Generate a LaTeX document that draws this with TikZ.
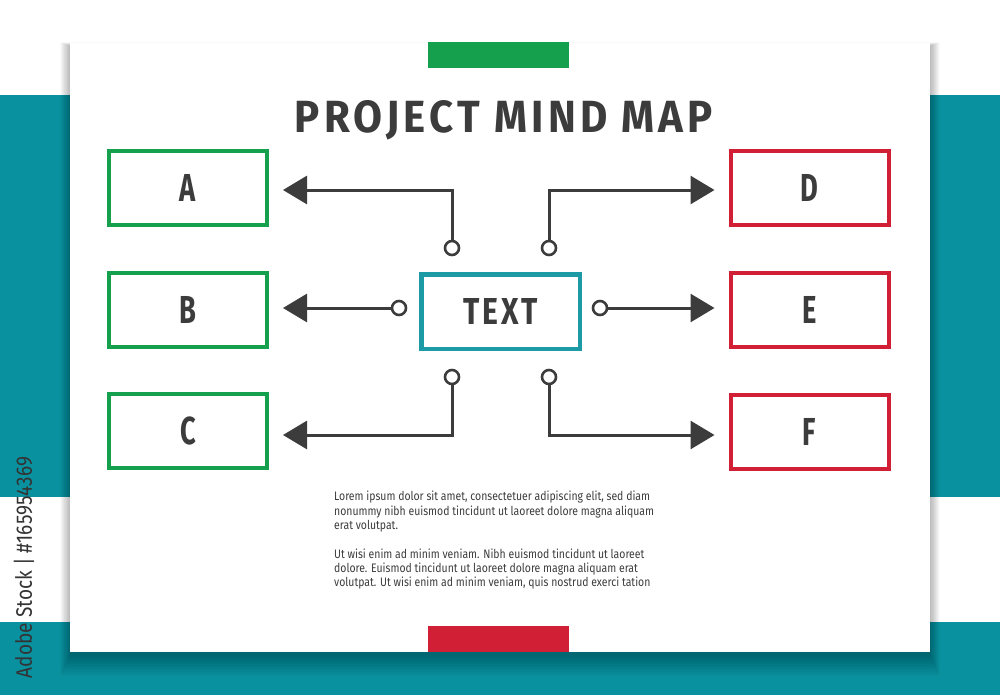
\documentclass[tikz,border=0pt]{standalone}
\usepackage{fontspec}
\usepackage{graphicx}
\setmainfont{Fira Sans}
\newfontfamily\disp[FakeStretch=0.7,LetterSpace=7]{Fira Sans}
\newfontfamily\bodyf[FakeStretch=0.85]{Fira Sans}
\usetikzlibrary{arrows.meta}
\definecolor{bandteal}{HTML}{0A919F}
\definecolor{boxteal}{HTML}{1C9AA6}
\definecolor{mmgreen}{HTML}{14A04C}
\definecolor{mmred}{HTML}{D11F35}
\definecolor{ink}{HTML}{3C3C3C}
\begin{document}
\begin{tikzpicture}[x=1pt,y=-1pt,
  leaf/.style={draw, line width=4pt, minimum width=158pt, minimum height=74pt,
    inner sep=0pt, text=ink, font=\disp\bfseries\fontsize{39}{39}\selectfont},
  greenbox/.style={leaf, draw=mmgreen},
  redbox/.style={leaf, draw=mmred},
  hub/.style={draw=boxteal, line width=4.5pt, minimum width=158.5pt, minimum height=74.5pt,
    inner sep=0pt, text=ink},
  port/.style={circle, draw=ink, line width=2.6pt, fill=white, minimum size=14pt, inner sep=0pt},
  conn/.style={draw=ink, line width=3pt, -{Triangle[length=24pt,width=28pt]}, shorten >=14pt},
  bar/.style={inner sep=0pt, minimum width=141pt, minimum height=26pt}
]
\useasboundingbox (0,0) rectangle (1000,695);
% background
\fill[white] (0,0) rectangle (1000,695);
\fill[bandteal] (0,95) rectangle (1000,497);
\fill[bandteal] (0,622) rectangle (1000,695);
% watermark label
\node[rotate=90, text=ink!85!black, inner sep=0pt] (wm) at (24,567.5)
  {\resizebox{221pt}{!}{\bodyf\fontsize{16}{16}\selectfont Adobe Stock | \#165954369}};
% card shadow
\foreach \i in {1,...,14}{
  \fill[black, opacity=0.018] (70-\i*0.7, 43-\i*0.25+3) rectangle (930+\i*0.7, 652+\i*1.5+3);
}
% card
\fill[white] (70,43) rectangle (930,652);
\node[bar, fill=mmgreen] (topbar) at (498.5,55.5) {};
\node[bar, fill=mmred] (botbar) at (498.5,639) {};
% title
\node[anchor=base, inner sep=0pt, text=ink] (title) at (504,133)
  {\resizebox{418pt}{32pt}{\disp\bfseries PROJECT MIND MAP}};
% boxes
\node[greenbox] (A) at (188,188) {A};
\node[greenbox] (B) at (188,309.5) {B};
\node[greenbox] (C) at (188,431) {C};
\node[redbox] (D) at (809.5,188) {D};
\node[redbox] (E) at (809.5,310) {E};
\node[redbox] (F) at (809.5,432) {F};
\node[hub] (T) at (500.5,311.5) {\resizebox{75pt}{26pt}{\disp\bfseries TEXT}};
% ports
\node[port] (p1) at (452,248) {};
\node[port] (p2) at (549,248) {};
\node[port] (p3) at (399,308) {};
\node[port] (p4) at (600,308) {};
\node[port] (p5) at (452,377) {};
\node[port] (p6) at (549,377) {};
% connectors
\draw[conn] (p1.north) |- ([yshift=-2pt]A.east);
\draw[conn] (p2.north) |- ([yshift=-2pt]D.west);
\draw[conn] (p3.west) -- (p3.west -| B.east);
\draw[conn] (p4.east) -- (p4.east -| E.west);
\draw[conn] (p5.south) |- ([yshift=-4pt]C.east);
\draw[conn] (p6.south) |- ([yshift=-3pt]F.west);
% body text
\node[anchor=north west, inner sep=0pt, align=left, text=ink,
  font=\bodyf\fontsize{12.3}{14.3}\selectfont] (body) at (334,491)
  {Lorem ipsum dolor sit amet, consectetuer adipiscing elit, sed diam\\
   nonummy nibh euismod tincidunt ut laoreet dolore magna aliquam\\
   erat volutpat.\\[14.3pt]
   Ut wisi enim ad minim veniam. Nibh euismod tincidunt ut laoreet\\
   dolore. Euismod tincidunt ut laoreet dolore magna aliquam erat\\
   volutpat. Ut wisi enim ad minim veniam, quis nostrud exerci tation};
\end{tikzpicture}
\end{document}
